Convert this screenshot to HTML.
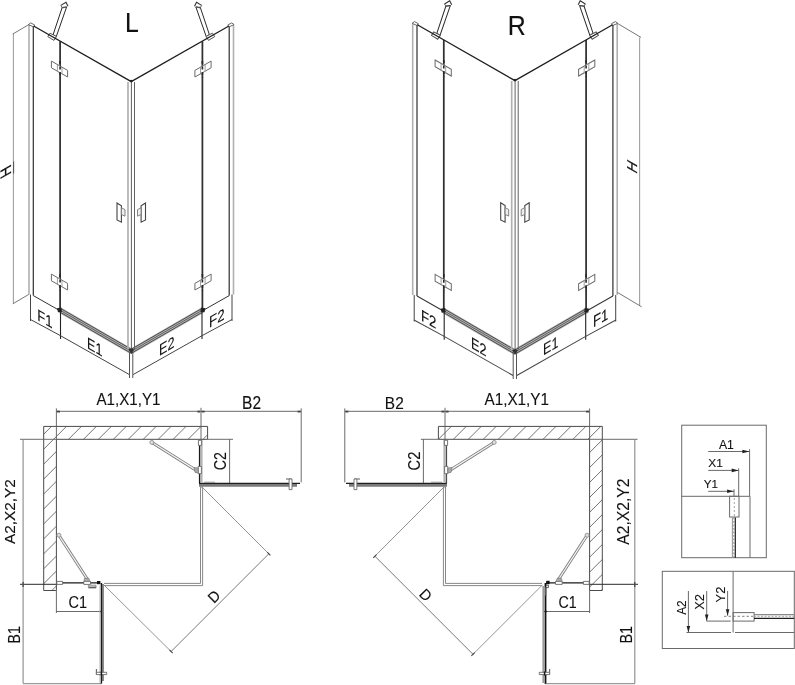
<!DOCTYPE html>
<html><head><meta charset="utf-8"><style>
html,body{margin:0;padding:0;background:#fff;}
svg{display:block;will-change:transform;}
text{font-family:"Liberation Sans",sans-serif;}
</style></head><body>
<svg width="795" height="685" viewBox="0 0 795 685">
<rect width="795" height="685" fill="#fff"/>
<g><line x1="29.00" y1="25.00" x2="29.00" y2="294.50" stroke="#b0b0b0" stroke-width="1.6"/>
<line x1="33.30" y1="26.30" x2="33.30" y2="295.50" stroke="#2e2e2e" stroke-width="1.2"/>
<polygon points="28.40,24.60 30.80,22.90 34.80,25.10 33.30,26.80" fill="#fff" stroke="#555" stroke-width="0.9"/>
<line x1="60.10" y1="41.20" x2="60.10" y2="309.00" stroke="#303030" stroke-width="1.75"/>
<polygon points="51.40,61.10 67.60,70.40 67.60,77.00 51.40,67.80" fill="#fff" stroke="#6a6a6a" stroke-width="1"/>
<polygon points="57.40,64.70 62.00,67.40 62.00,73.80 57.40,71.10" fill="#fff" stroke="#888" stroke-width="0.8"/>
<line x1="60.10" y1="61.00" x2="60.10" y2="78.00" stroke="#262626" stroke-width="1.6" stroke-dasharray="3,2.5"/>
<polygon points="51.40,274.10 67.60,283.40 67.60,290.00 51.40,280.80" fill="#fff" stroke="#6a6a6a" stroke-width="1"/>
<polygon points="57.40,277.70 62.00,280.40 62.00,286.80 57.40,284.10" fill="#fff" stroke="#888" stroke-width="0.8"/>
<line x1="60.10" y1="274.00" x2="60.10" y2="291.00" stroke="#262626" stroke-width="1.6" stroke-dasharray="3,2.5"/>
<polygon points="117.00,203.00 121.40,205.80 121.40,222.20 117.00,220.00" fill="#fff" stroke="#444" stroke-width="1.1"/>
<polygon points="121.40,207.80 125.00,209.60 125.00,216.20 121.40,214.50" fill="#eee" stroke="#777" stroke-width="0.9"/>
<polygon points="53.20,34.40 62.20,7.40 66.60,7.00 56.20,36.80" fill="#fff" stroke="#2a2a2a" stroke-width="1.0"/>
<polyline points="60.80,5.40 66.00,2.20 68.00,6.20" fill="none" stroke="#333" stroke-width="1.1"/>
<polyline points="60.80,5.40 62.40,8.00 67.00,6.80" fill="none" stroke="#555" stroke-width="0.9"/>
<polygon points="47.80,36.60 50.00,33.20 56.40,36.40 54.00,40.40" fill="#fff" stroke="#555" stroke-width="1"/>
<line x1="33.30" y1="295.60" x2="60.10" y2="310.80" stroke="#333" stroke-width="1"/>
<line x1="60.10" y1="310.20" x2="131.30" y2="351.30" stroke="#b4b4b4" stroke-width="5.6"/>
<line x1="60.10" y1="308.20" x2="131.30" y2="349.30" stroke="#484848" stroke-width="0.95"/>
<line x1="60.10" y1="310.20" x2="131.30" y2="351.30" stroke="#5a5a5a" stroke-width="0.9"/>
<line x1="60.10" y1="312.20" x2="131.30" y2="353.30" stroke="#484848" stroke-width="0.95"/>
<polygon points="57.00,308.20 61.40,307.40 62.00,311.80 58.00,312.20" fill="#222"/>
<line x1="33.60" y1="26.00" x2="131.30" y2="81.60" stroke="#1e1e1e" stroke-width="1.3"/>
<line x1="30.50" y1="294.50" x2="30.50" y2="321.00" stroke="#444" stroke-width="1"/>
<line x1="60.50" y1="311.00" x2="60.50" y2="339.00" stroke="#222" stroke-width="1.1"/>
<line x1="30.30" y1="319.40" x2="60.50" y2="335.70" stroke="#444" stroke-width="1"/>
<line x1="60.50" y1="335.70" x2="129.40" y2="374.60" stroke="#444" stroke-width="1"/>
<line x1="233.50" y1="25.00" x2="233.50" y2="294.50" stroke="#b0b0b0" stroke-width="1.6"/>
<line x1="229.20" y1="26.30" x2="229.20" y2="295.50" stroke="#2e2e2e" stroke-width="1.2"/>
<polygon points="234.10,24.60 231.70,22.90 227.70,25.10 229.20,26.80" fill="#fff" stroke="#555" stroke-width="0.9"/>
<line x1="202.40" y1="41.20" x2="202.40" y2="309.00" stroke="#303030" stroke-width="1.75"/>
<polygon points="211.10,61.10 194.90,70.40 194.90,77.00 211.10,67.80" fill="#fff" stroke="#6a6a6a" stroke-width="1"/>
<polygon points="205.10,64.70 200.50,67.40 200.50,73.80 205.10,71.10" fill="#fff" stroke="#888" stroke-width="0.8"/>
<line x1="202.40" y1="61.00" x2="202.40" y2="78.00" stroke="#262626" stroke-width="1.6" stroke-dasharray="3,2.5"/>
<polygon points="211.10,274.10 194.90,283.40 194.90,290.00 211.10,280.80" fill="#fff" stroke="#6a6a6a" stroke-width="1"/>
<polygon points="205.10,277.70 200.50,280.40 200.50,286.80 205.10,284.10" fill="#fff" stroke="#888" stroke-width="0.8"/>
<line x1="202.40" y1="274.00" x2="202.40" y2="291.00" stroke="#262626" stroke-width="1.6" stroke-dasharray="3,2.5"/>
<polygon points="145.50,203.00 141.10,205.80 141.10,222.20 145.50,220.00" fill="#fff" stroke="#444" stroke-width="1.1"/>
<polygon points="141.10,207.80 137.50,209.60 137.50,216.20 141.10,214.50" fill="#eee" stroke="#777" stroke-width="0.9"/>
<polygon points="209.30,34.40 200.30,7.40 195.90,7.00 206.30,36.80" fill="#fff" stroke="#2a2a2a" stroke-width="1.0"/>
<polyline points="201.70,5.40 196.50,2.20 194.50,6.20" fill="none" stroke="#333" stroke-width="1.1"/>
<polyline points="201.70,5.40 200.10,8.00 195.50,6.80" fill="none" stroke="#555" stroke-width="0.9"/>
<polygon points="214.70,36.60 212.50,33.20 206.10,36.40 208.50,40.40" fill="#fff" stroke="#555" stroke-width="1"/>
<line x1="229.20" y1="295.60" x2="202.40" y2="310.80" stroke="#333" stroke-width="1"/>
<line x1="202.40" y1="310.20" x2="131.20" y2="351.30" stroke="#b4b4b4" stroke-width="5.6"/>
<line x1="202.40" y1="308.20" x2="131.20" y2="349.30" stroke="#484848" stroke-width="0.95"/>
<line x1="202.40" y1="310.20" x2="131.20" y2="351.30" stroke="#5a5a5a" stroke-width="0.9"/>
<line x1="202.40" y1="312.20" x2="131.20" y2="353.30" stroke="#484848" stroke-width="0.95"/>
<polygon points="205.50,308.20 201.10,307.40 200.50,311.80 204.50,312.20" fill="#222"/>
<line x1="228.90" y1="26.00" x2="131.20" y2="81.60" stroke="#1e1e1e" stroke-width="1.3"/>
<line x1="232.00" y1="294.50" x2="232.00" y2="321.00" stroke="#444" stroke-width="1"/>
<line x1="202.00" y1="311.00" x2="202.00" y2="339.00" stroke="#222" stroke-width="1.1"/>
<line x1="232.20" y1="319.40" x2="202.00" y2="335.70" stroke="#444" stroke-width="1"/>
<line x1="202.00" y1="335.70" x2="133.10" y2="374.60" stroke="#444" stroke-width="1"/>
<line x1="128.00" y1="82.00" x2="128.00" y2="349.50" stroke="#b0b0b0" stroke-width="1.7"/>
<line x1="131.40" y1="82.00" x2="131.40" y2="349.50" stroke="#606060" stroke-width="1"/>
<line x1="134.50" y1="82.00" x2="134.50" y2="349.50" stroke="#606060" stroke-width="1"/>
<polygon points="129.20,80.60 131.30,79.80 133.40,80.60 131.30,82.80" fill="#222"/>
<line x1="129.50" y1="352.00" x2="129.50" y2="378.00" stroke="#555" stroke-width="1"/>
<line x1="132.80" y1="352.00" x2="132.80" y2="378.00" stroke="#555" stroke-width="1"/>
<polygon points="128.40,349.60 131.30,348.20 134.20,349.60 131.30,354.00" fill="#333"/></g>
<g transform="translate(383.7,-1.466) scale(1,1.0063)"><line x1="29.00" y1="25.00" x2="29.00" y2="294.50" stroke="#b0b0b0" stroke-width="1.6"/>
<line x1="33.30" y1="26.30" x2="33.30" y2="295.50" stroke="#2e2e2e" stroke-width="1.2"/>
<polygon points="28.40,24.60 30.80,22.90 34.80,25.10 33.30,26.80" fill="#fff" stroke="#555" stroke-width="0.9"/>
<line x1="60.10" y1="41.20" x2="60.10" y2="309.00" stroke="#303030" stroke-width="1.75"/>
<polygon points="51.40,61.10 67.60,70.40 67.60,77.00 51.40,67.80" fill="#fff" stroke="#6a6a6a" stroke-width="1"/>
<polygon points="57.40,64.70 62.00,67.40 62.00,73.80 57.40,71.10" fill="#fff" stroke="#888" stroke-width="0.8"/>
<line x1="60.10" y1="61.00" x2="60.10" y2="78.00" stroke="#262626" stroke-width="1.6" stroke-dasharray="3,2.5"/>
<polygon points="51.40,274.10 67.60,283.40 67.60,290.00 51.40,280.80" fill="#fff" stroke="#6a6a6a" stroke-width="1"/>
<polygon points="57.40,277.70 62.00,280.40 62.00,286.80 57.40,284.10" fill="#fff" stroke="#888" stroke-width="0.8"/>
<line x1="60.10" y1="274.00" x2="60.10" y2="291.00" stroke="#262626" stroke-width="1.6" stroke-dasharray="3,2.5"/>
<polygon points="117.00,203.00 121.40,205.80 121.40,222.20 117.00,220.00" fill="#fff" stroke="#444" stroke-width="1.1"/>
<polygon points="121.40,207.80 125.00,209.60 125.00,216.20 121.40,214.50" fill="#eee" stroke="#777" stroke-width="0.9"/>
<polygon points="53.20,34.40 62.20,7.40 66.60,7.00 56.20,36.80" fill="#fff" stroke="#2a2a2a" stroke-width="1.0"/>
<polyline points="60.80,5.40 66.00,2.20 68.00,6.20" fill="none" stroke="#333" stroke-width="1.1"/>
<polyline points="60.80,5.40 62.40,8.00 67.00,6.80" fill="none" stroke="#555" stroke-width="0.9"/>
<polygon points="47.80,36.60 50.00,33.20 56.40,36.40 54.00,40.40" fill="#fff" stroke="#555" stroke-width="1"/>
<line x1="33.30" y1="295.60" x2="60.10" y2="310.80" stroke="#333" stroke-width="1"/>
<line x1="60.10" y1="310.20" x2="131.30" y2="351.30" stroke="#b4b4b4" stroke-width="5.6"/>
<line x1="60.10" y1="308.20" x2="131.30" y2="349.30" stroke="#484848" stroke-width="0.95"/>
<line x1="60.10" y1="310.20" x2="131.30" y2="351.30" stroke="#5a5a5a" stroke-width="0.9"/>
<line x1="60.10" y1="312.20" x2="131.30" y2="353.30" stroke="#484848" stroke-width="0.95"/>
<polygon points="57.00,308.20 61.40,307.40 62.00,311.80 58.00,312.20" fill="#222"/>
<line x1="33.60" y1="26.00" x2="131.30" y2="81.60" stroke="#1e1e1e" stroke-width="1.3"/>
<line x1="30.50" y1="294.50" x2="30.50" y2="321.00" stroke="#444" stroke-width="1"/>
<line x1="60.50" y1="311.00" x2="60.50" y2="339.00" stroke="#222" stroke-width="1.1"/>
<line x1="30.30" y1="319.40" x2="60.50" y2="335.70" stroke="#444" stroke-width="1"/>
<line x1="60.50" y1="335.70" x2="129.40" y2="374.60" stroke="#444" stroke-width="1"/>
<line x1="233.50" y1="25.00" x2="233.50" y2="294.50" stroke="#b0b0b0" stroke-width="1.6"/>
<line x1="229.20" y1="26.30" x2="229.20" y2="295.50" stroke="#2e2e2e" stroke-width="1.2"/>
<polygon points="234.10,24.60 231.70,22.90 227.70,25.10 229.20,26.80" fill="#fff" stroke="#555" stroke-width="0.9"/>
<line x1="202.40" y1="41.20" x2="202.40" y2="309.00" stroke="#303030" stroke-width="1.75"/>
<polygon points="211.10,61.10 194.90,70.40 194.90,77.00 211.10,67.80" fill="#fff" stroke="#6a6a6a" stroke-width="1"/>
<polygon points="205.10,64.70 200.50,67.40 200.50,73.80 205.10,71.10" fill="#fff" stroke="#888" stroke-width="0.8"/>
<line x1="202.40" y1="61.00" x2="202.40" y2="78.00" stroke="#262626" stroke-width="1.6" stroke-dasharray="3,2.5"/>
<polygon points="211.10,274.10 194.90,283.40 194.90,290.00 211.10,280.80" fill="#fff" stroke="#6a6a6a" stroke-width="1"/>
<polygon points="205.10,277.70 200.50,280.40 200.50,286.80 205.10,284.10" fill="#fff" stroke="#888" stroke-width="0.8"/>
<line x1="202.40" y1="274.00" x2="202.40" y2="291.00" stroke="#262626" stroke-width="1.6" stroke-dasharray="3,2.5"/>
<polygon points="145.50,203.00 141.10,205.80 141.10,222.20 145.50,220.00" fill="#fff" stroke="#444" stroke-width="1.1"/>
<polygon points="141.10,207.80 137.50,209.60 137.50,216.20 141.10,214.50" fill="#eee" stroke="#777" stroke-width="0.9"/>
<polygon points="209.30,34.40 200.30,7.40 195.90,7.00 206.30,36.80" fill="#fff" stroke="#2a2a2a" stroke-width="1.0"/>
<polyline points="201.70,5.40 196.50,2.20 194.50,6.20" fill="none" stroke="#333" stroke-width="1.1"/>
<polyline points="201.70,5.40 200.10,8.00 195.50,6.80" fill="none" stroke="#555" stroke-width="0.9"/>
<polygon points="214.70,36.60 212.50,33.20 206.10,36.40 208.50,40.40" fill="#fff" stroke="#555" stroke-width="1"/>
<line x1="229.20" y1="295.60" x2="202.40" y2="310.80" stroke="#333" stroke-width="1"/>
<line x1="202.40" y1="310.20" x2="131.20" y2="351.30" stroke="#b4b4b4" stroke-width="5.6"/>
<line x1="202.40" y1="308.20" x2="131.20" y2="349.30" stroke="#484848" stroke-width="0.95"/>
<line x1="202.40" y1="310.20" x2="131.20" y2="351.30" stroke="#5a5a5a" stroke-width="0.9"/>
<line x1="202.40" y1="312.20" x2="131.20" y2="353.30" stroke="#484848" stroke-width="0.95"/>
<polygon points="205.50,308.20 201.10,307.40 200.50,311.80 204.50,312.20" fill="#222"/>
<line x1="228.90" y1="26.00" x2="131.20" y2="81.60" stroke="#1e1e1e" stroke-width="1.3"/>
<line x1="232.00" y1="294.50" x2="232.00" y2="321.00" stroke="#444" stroke-width="1"/>
<line x1="202.00" y1="311.00" x2="202.00" y2="339.00" stroke="#222" stroke-width="1.1"/>
<line x1="232.20" y1="319.40" x2="202.00" y2="335.70" stroke="#444" stroke-width="1"/>
<line x1="202.00" y1="335.70" x2="133.10" y2="374.60" stroke="#444" stroke-width="1"/>
<line x1="128.00" y1="82.00" x2="128.00" y2="349.50" stroke="#b0b0b0" stroke-width="1.7"/>
<line x1="131.40" y1="82.00" x2="131.40" y2="349.50" stroke="#606060" stroke-width="1"/>
<line x1="134.50" y1="82.00" x2="134.50" y2="349.50" stroke="#606060" stroke-width="1"/>
<polygon points="129.20,80.60 131.30,79.80 133.40,80.60 131.30,82.80" fill="#222"/>
<line x1="129.50" y1="352.00" x2="129.50" y2="378.00" stroke="#555" stroke-width="1"/>
<line x1="132.80" y1="352.00" x2="132.80" y2="378.00" stroke="#555" stroke-width="1"/>
<polygon points="128.40,349.60 131.30,348.20 134.20,349.60 131.30,354.00" fill="#333"/></g>
<line x1="13.40" y1="33.60" x2="13.40" y2="303.60" stroke="#a0a0a0" stroke-width="1.1"/>
<line x1="12.80" y1="34.00" x2="28.80" y2="24.60" stroke="#666" stroke-width="0.9"/>
<line x1="12.80" y1="303.80" x2="28.80" y2="294.40" stroke="#666" stroke-width="0.9"/>
<line x1="13.60" y1="161.50" x2="13.60" y2="173.50" stroke="#555" stroke-width="1.1"/>
<text transform="translate(11.00,172.80) skewY(-30) rotate(-90) scale(0.943,1) translate(-1.21,0)" font-size="15.14" fill="#111" stroke="#111" stroke-width="0.25">H</text>
<text transform="translate(126.90,31.80)  scale(0.885,1) translate(-2.24,0)" font-size="28.00" fill="#111" stroke="#111" stroke-width="0.15">L</text>
<text transform="translate(38.30,320.60) skewY(30) scale(0.810,1) translate(-1.29,0)" font-size="16.14" fill="#111" stroke="#111" stroke-width="0.12">F1</text>
<text transform="translate(88.10,348.60) skewY(30) scale(0.780,1) translate(-1.28,0)" font-size="16.00" fill="#111" stroke="#111" stroke-width="0.12">E1</text>
<text transform="translate(160.10,355.40) skewY(-30) scale(0.791,1) translate(-1.28,0)" font-size="16.00" fill="#111" stroke="#111" stroke-width="0.12">E2</text>
<text transform="translate(210.10,327.30) skewY(-30) scale(0.837,1) translate(-1.27,0)" font-size="15.86" fill="#111" stroke="#111" stroke-width="0.12">F2</text>
<line x1="639.60" y1="37.40" x2="639.60" y2="305.60" stroke="#a0a0a0" stroke-width="1.1"/>
<line x1="617.40" y1="23.40" x2="641.00" y2="37.40" stroke="#666" stroke-width="0.9"/>
<line x1="617.40" y1="292.40" x2="641.60" y2="306.80" stroke="#666" stroke-width="0.9"/>
<text transform="translate(637.20,173.30) skewY(30) rotate(-90) scale(1.000,1) translate(-1.14,0)" font-size="14.29" fill="#111" stroke="#111" stroke-width="0.25">H</text>
<text transform="translate(509.80,35.00)  scale(0.881,1) translate(-2.26,0)" font-size="28.29" fill="#111" stroke="#111" stroke-width="0.15">R</text>
<text transform="translate(422.00,320.80) skewY(30) scale(0.837,1) translate(-1.27,0)" font-size="15.86" fill="#111" stroke="#111" stroke-width="0.12">F2</text>
<text transform="translate(472.10,348.40) skewY(30) scale(0.791,1) translate(-1.28,0)" font-size="16.00" fill="#111" stroke="#111" stroke-width="0.12">E2</text>
<text transform="translate(544.10,355.00) skewY(-30) scale(0.780,1) translate(-1.28,0)" font-size="16.00" fill="#111" stroke="#111" stroke-width="0.12">E1</text>
<text transform="translate(594.00,327.00) skewY(-30) scale(0.817,1) translate(-1.28,0)" font-size="16.00" fill="#111" stroke="#111" stroke-width="0.12">F1</text>
<clipPath id="wc0"><polygon points="43.70,426.40 207.60,426.40 207.60,439.30 56.40,439.30 56.40,590.50 43.70,590.50" /></clipPath>
<g clip-path="url(#wc0)"><line x1="-790.20" y1="700.00" x2="-470.20" y2="380.00" stroke="#5a5a5a" stroke-width="0.85"/><line x1="-775.25" y1="700.00" x2="-455.25" y2="380.00" stroke="#5a5a5a" stroke-width="0.85"/><line x1="-760.30" y1="700.00" x2="-440.30" y2="380.00" stroke="#5a5a5a" stroke-width="0.85"/><line x1="-745.35" y1="700.00" x2="-425.35" y2="380.00" stroke="#5a5a5a" stroke-width="0.85"/><line x1="-730.40" y1="700.00" x2="-410.40" y2="380.00" stroke="#5a5a5a" stroke-width="0.85"/><line x1="-715.45" y1="700.00" x2="-395.45" y2="380.00" stroke="#5a5a5a" stroke-width="0.85"/><line x1="-700.50" y1="700.00" x2="-380.50" y2="380.00" stroke="#5a5a5a" stroke-width="0.85"/><line x1="-685.55" y1="700.00" x2="-365.55" y2="380.00" stroke="#5a5a5a" stroke-width="0.85"/><line x1="-670.60" y1="700.00" x2="-350.60" y2="380.00" stroke="#5a5a5a" stroke-width="0.85"/><line x1="-655.65" y1="700.00" x2="-335.65" y2="380.00" stroke="#5a5a5a" stroke-width="0.85"/><line x1="-640.70" y1="700.00" x2="-320.70" y2="380.00" stroke="#5a5a5a" stroke-width="0.85"/><line x1="-625.75" y1="700.00" x2="-305.75" y2="380.00" stroke="#5a5a5a" stroke-width="0.85"/><line x1="-610.80" y1="700.00" x2="-290.80" y2="380.00" stroke="#5a5a5a" stroke-width="0.85"/><line x1="-595.85" y1="700.00" x2="-275.85" y2="380.00" stroke="#5a5a5a" stroke-width="0.85"/><line x1="-580.90" y1="700.00" x2="-260.90" y2="380.00" stroke="#5a5a5a" stroke-width="0.85"/><line x1="-565.95" y1="700.00" x2="-245.95" y2="380.00" stroke="#5a5a5a" stroke-width="0.85"/><line x1="-551.00" y1="700.00" x2="-231.00" y2="380.00" stroke="#5a5a5a" stroke-width="0.85"/><line x1="-536.05" y1="700.00" x2="-216.05" y2="380.00" stroke="#5a5a5a" stroke-width="0.85"/><line x1="-521.10" y1="700.00" x2="-201.10" y2="380.00" stroke="#5a5a5a" stroke-width="0.85"/><line x1="-506.15" y1="700.00" x2="-186.15" y2="380.00" stroke="#5a5a5a" stroke-width="0.85"/><line x1="-491.20" y1="700.00" x2="-171.20" y2="380.00" stroke="#5a5a5a" stroke-width="0.85"/><line x1="-476.25" y1="700.00" x2="-156.25" y2="380.00" stroke="#5a5a5a" stroke-width="0.85"/><line x1="-461.30" y1="700.00" x2="-141.30" y2="380.00" stroke="#5a5a5a" stroke-width="0.85"/><line x1="-446.35" y1="700.00" x2="-126.35" y2="380.00" stroke="#5a5a5a" stroke-width="0.85"/><line x1="-431.40" y1="700.00" x2="-111.40" y2="380.00" stroke="#5a5a5a" stroke-width="0.85"/><line x1="-416.45" y1="700.00" x2="-96.45" y2="380.00" stroke="#5a5a5a" stroke-width="0.85"/><line x1="-401.50" y1="700.00" x2="-81.50" y2="380.00" stroke="#5a5a5a" stroke-width="0.85"/><line x1="-386.55" y1="700.00" x2="-66.55" y2="380.00" stroke="#5a5a5a" stroke-width="0.85"/><line x1="-371.60" y1="700.00" x2="-51.60" y2="380.00" stroke="#5a5a5a" stroke-width="0.85"/><line x1="-356.65" y1="700.00" x2="-36.65" y2="380.00" stroke="#5a5a5a" stroke-width="0.85"/><line x1="-341.70" y1="700.00" x2="-21.70" y2="380.00" stroke="#5a5a5a" stroke-width="0.85"/><line x1="-326.75" y1="700.00" x2="-6.75" y2="380.00" stroke="#5a5a5a" stroke-width="0.85"/><line x1="-311.80" y1="700.00" x2="8.20" y2="380.00" stroke="#5a5a5a" stroke-width="0.85"/><line x1="-296.85" y1="700.00" x2="23.15" y2="380.00" stroke="#5a5a5a" stroke-width="0.85"/><line x1="-281.90" y1="700.00" x2="38.10" y2="380.00" stroke="#5a5a5a" stroke-width="0.85"/><line x1="-266.95" y1="700.00" x2="53.05" y2="380.00" stroke="#5a5a5a" stroke-width="0.85"/><line x1="-252.00" y1="700.00" x2="68.00" y2="380.00" stroke="#5a5a5a" stroke-width="0.85"/><line x1="-237.05" y1="700.00" x2="82.95" y2="380.00" stroke="#5a5a5a" stroke-width="0.85"/><line x1="-222.10" y1="700.00" x2="97.90" y2="380.00" stroke="#5a5a5a" stroke-width="0.85"/><line x1="-207.15" y1="700.00" x2="112.85" y2="380.00" stroke="#5a5a5a" stroke-width="0.85"/><line x1="-192.20" y1="700.00" x2="127.80" y2="380.00" stroke="#5a5a5a" stroke-width="0.85"/><line x1="-177.25" y1="700.00" x2="142.75" y2="380.00" stroke="#5a5a5a" stroke-width="0.85"/><line x1="-162.30" y1="700.00" x2="157.70" y2="380.00" stroke="#5a5a5a" stroke-width="0.85"/><line x1="-147.35" y1="700.00" x2="172.65" y2="380.00" stroke="#5a5a5a" stroke-width="0.85"/><line x1="-132.40" y1="700.00" x2="187.60" y2="380.00" stroke="#5a5a5a" stroke-width="0.85"/><line x1="-117.45" y1="700.00" x2="202.55" y2="380.00" stroke="#5a5a5a" stroke-width="0.85"/><line x1="-102.50" y1="700.00" x2="217.50" y2="380.00" stroke="#5a5a5a" stroke-width="0.85"/><line x1="-87.55" y1="700.00" x2="232.45" y2="380.00" stroke="#5a5a5a" stroke-width="0.85"/><line x1="-72.60" y1="700.00" x2="247.40" y2="380.00" stroke="#5a5a5a" stroke-width="0.85"/><line x1="-57.65" y1="700.00" x2="262.35" y2="380.00" stroke="#5a5a5a" stroke-width="0.85"/><line x1="-42.70" y1="700.00" x2="277.30" y2="380.00" stroke="#5a5a5a" stroke-width="0.85"/><line x1="-27.75" y1="700.00" x2="292.25" y2="380.00" stroke="#5a5a5a" stroke-width="0.85"/><line x1="-12.80" y1="700.00" x2="307.20" y2="380.00" stroke="#5a5a5a" stroke-width="0.85"/><line x1="2.15" y1="700.00" x2="322.15" y2="380.00" stroke="#5a5a5a" stroke-width="0.85"/><line x1="17.10" y1="700.00" x2="337.10" y2="380.00" stroke="#5a5a5a" stroke-width="0.85"/><line x1="32.05" y1="700.00" x2="352.05" y2="380.00" stroke="#5a5a5a" stroke-width="0.85"/><line x1="47.00" y1="700.00" x2="367.00" y2="380.00" stroke="#5a5a5a" stroke-width="0.85"/><line x1="61.95" y1="700.00" x2="381.95" y2="380.00" stroke="#5a5a5a" stroke-width="0.85"/><line x1="76.90" y1="700.00" x2="396.90" y2="380.00" stroke="#5a5a5a" stroke-width="0.85"/><line x1="91.85" y1="700.00" x2="411.85" y2="380.00" stroke="#5a5a5a" stroke-width="0.85"/><line x1="106.80" y1="700.00" x2="426.80" y2="380.00" stroke="#5a5a5a" stroke-width="0.85"/><line x1="121.75" y1="700.00" x2="441.75" y2="380.00" stroke="#5a5a5a" stroke-width="0.85"/><line x1="136.70" y1="700.00" x2="456.70" y2="380.00" stroke="#5a5a5a" stroke-width="0.85"/><line x1="151.65" y1="700.00" x2="471.65" y2="380.00" stroke="#5a5a5a" stroke-width="0.85"/><line x1="166.60" y1="700.00" x2="486.60" y2="380.00" stroke="#5a5a5a" stroke-width="0.85"/><line x1="181.55" y1="700.00" x2="501.55" y2="380.00" stroke="#5a5a5a" stroke-width="0.85"/><line x1="196.50" y1="700.00" x2="516.50" y2="380.00" stroke="#5a5a5a" stroke-width="0.85"/><line x1="211.45" y1="700.00" x2="531.45" y2="380.00" stroke="#5a5a5a" stroke-width="0.85"/><line x1="226.40" y1="700.00" x2="546.40" y2="380.00" stroke="#5a5a5a" stroke-width="0.85"/><line x1="241.35" y1="700.00" x2="561.35" y2="380.00" stroke="#5a5a5a" stroke-width="0.85"/><line x1="256.30" y1="700.00" x2="576.30" y2="380.00" stroke="#5a5a5a" stroke-width="0.85"/><line x1="271.25" y1="700.00" x2="591.25" y2="380.00" stroke="#5a5a5a" stroke-width="0.85"/><line x1="286.20" y1="700.00" x2="606.20" y2="380.00" stroke="#5a5a5a" stroke-width="0.85"/><line x1="301.15" y1="700.00" x2="621.15" y2="380.00" stroke="#5a5a5a" stroke-width="0.85"/><line x1="316.10" y1="700.00" x2="636.10" y2="380.00" stroke="#5a5a5a" stroke-width="0.85"/><line x1="331.05" y1="700.00" x2="651.05" y2="380.00" stroke="#5a5a5a" stroke-width="0.85"/><line x1="346.00" y1="700.00" x2="666.00" y2="380.00" stroke="#5a5a5a" stroke-width="0.85"/><line x1="360.95" y1="700.00" x2="680.95" y2="380.00" stroke="#5a5a5a" stroke-width="0.85"/><line x1="375.90" y1="700.00" x2="695.90" y2="380.00" stroke="#5a5a5a" stroke-width="0.85"/><line x1="390.85" y1="700.00" x2="710.85" y2="380.00" stroke="#5a5a5a" stroke-width="0.85"/></g>
<polygon points="43.70,426.40 207.60,426.40 207.60,439.30 56.40,439.30 56.40,590.50 43.70,590.50" fill="none" stroke="#4a4a4a" stroke-width="1"/>
<line x1="56.40" y1="408.40" x2="56.40" y2="439.30" stroke="#5a5a5a" stroke-width="0.9"/>
<line x1="56.40" y1="411.30" x2="301.20" y2="411.30" stroke="#5a5a5a" stroke-width="0.9"/>
<line x1="201.00" y1="407.80" x2="201.00" y2="440.00" stroke="#5a5a5a" stroke-width="0.9"/>
<line x1="301.20" y1="408.40" x2="301.20" y2="482.40" stroke="#5a5a5a" stroke-width="0.9"/>
<line x1="57.00" y1="411.60" x2="60.00" y2="411.60" stroke="#444" stroke-width="1.8"/>
<line x1="197.40" y1="411.60" x2="200.20" y2="411.60" stroke="#444" stroke-width="1.8"/>
<line x1="201.80" y1="411.60" x2="204.60" y2="411.60" stroke="#444" stroke-width="1.8"/>
<line x1="297.60" y1="411.60" x2="300.60" y2="411.60" stroke="#444" stroke-width="1.8"/>
<line x1="43.70" y1="439.30" x2="56.40" y2="439.30" stroke="#5a5a5a" stroke-width="0.9"/>
<line x1="207.60" y1="439.30" x2="233.00" y2="439.30" stroke="#5a5a5a" stroke-width="0.9"/>
<line x1="229.60" y1="439.30" x2="229.60" y2="483.00" stroke="#5a5a5a" stroke-width="0.9"/>
<line x1="56.40" y1="590.50" x2="56.40" y2="613.00" stroke="#5a5a5a" stroke-width="0.9"/>
<line x1="56.40" y1="611.50" x2="101.40" y2="611.50" stroke="#5a5a5a" stroke-width="0.9"/>
<line x1="99.00" y1="611.50" x2="101.40" y2="611.50" stroke="#222" stroke-width="1.4"/>
<line x1="23.10" y1="683.60" x2="101.40" y2="683.60" stroke="#9a9a9a" stroke-width="1.1"/>
<polyline points="104.00,583.40 200.50,583.40 200.50,487.00" fill="none" stroke="#7a7a7a" stroke-width="0.9"/>
<polyline points="104.00,585.60 202.60,585.60 202.60,487.00" fill="none" stroke="#7a7a7a" stroke-width="0.9"/>
<line x1="200.50" y1="487.00" x2="202.60" y2="487.00" stroke="#7a7a7a" stroke-width="0.9"/>
<line x1="202.60" y1="487.60" x2="268.80" y2="553.80" stroke="#8a8a8a" stroke-width="0.9"/>
<line x1="103.60" y1="584.60" x2="171.10" y2="651.50" stroke="#8a8a8a" stroke-width="0.9"/>
<line x1="268.80" y1="553.80" x2="171.10" y2="651.50" stroke="#6a6a6a" stroke-width="0.9"/>
<line x1="267.20" y1="552.20" x2="270.40" y2="555.40" stroke="#444" stroke-width="1.1"/>
<line x1="169.50" y1="649.90" x2="172.70" y2="653.10" stroke="#444" stroke-width="1.1"/>
<line x1="199.00" y1="485.40" x2="297.00" y2="485.40" stroke="#7a7a7a" stroke-width="2.6"/>
<line x1="199.00" y1="483.40" x2="300.00" y2="483.40" stroke="#1e1e1e" stroke-width="1.3"/>
<line x1="204.00" y1="482.20" x2="215.00" y2="482.20" stroke="#888" stroke-width="0.9"/>
<line x1="286.00" y1="479.00" x2="291.70" y2="479.00" stroke="#777" stroke-width="1.2"/>
<polygon points="289.10,479.00 292.00,479.00 292.00,489.60 289.10,489.60" fill="#fff" stroke="#666" stroke-width="0.9"/>
<line x1="103.00" y1="584.00" x2="103.00" y2="681.00" stroke="#8c8c8c" stroke-width="2.0"/>
<line x1="101.40" y1="583.00" x2="101.40" y2="683.60" stroke="#1a1a1a" stroke-width="1.5"/>
<line x1="99.80" y1="586.00" x2="99.80" y2="683.00" stroke="#c8c8c8" stroke-width="1.0"/>
<line x1="96.40" y1="669.00" x2="96.40" y2="674.50" stroke="#666" stroke-width="1.1"/>
<polygon points="96.40,672.30 106.70,672.30 106.70,674.60 96.40,674.60" fill="#fff" stroke="#666" stroke-width="0.9"/>
<line x1="101.40" y1="671.50" x2="101.40" y2="675.50" stroke="#1a1a1a" stroke-width="1.5"/>
<line x1="201.70" y1="440.00" x2="201.70" y2="482.50" stroke="#b4b4b4" stroke-width="1.8"/>
<line x1="199.60" y1="440.00" x2="199.60" y2="483.50" stroke="#1a1a1a" stroke-width="1.4"/>
<polygon points="198.40,440.20 201.60,440.20 201.60,445.40 198.40,445.40" fill="#fff" stroke="#666" stroke-width="0.9"/>
<polygon points="198.20,466.40 201.40,466.40 201.40,473.70 198.20,473.70" fill="#fff" stroke="#666" stroke-width="0.9"/>
<line x1="56.40" y1="582.90" x2="100.00" y2="582.90" stroke="#1a1a1a" stroke-width="1.4"/>
<polygon points="56.80,581.40 62.60,581.40 62.60,584.40 56.80,584.40" fill="#fff" stroke="#666" stroke-width="0.9"/>
<polygon points="83.80,581.40 90.50,581.40 90.50,584.40 83.80,584.40" fill="#fff" stroke="#666" stroke-width="0.9"/>
<polygon points="88.40,585.20 96.00,585.20 96.00,588.00 88.40,588.00" fill="#f4f4f4" stroke="#777" stroke-width="0.8"/>
<line x1="89.00" y1="587.20" x2="95.80" y2="587.20" stroke="#333" stroke-width="1"/>
<polygon points="97.00,581.00 100.40,581.00 100.40,584.20 97.00,584.20" fill="#111"/>
<line x1="151.60" y1="442.20" x2="196.40" y2="470.40" stroke="#7a7a7a" stroke-width="3.0" stroke-linecap="butt"/>
<line x1="151.60" y1="442.20" x2="196.40" y2="470.40" stroke="#f2f2f2" stroke-width="1.3"/>
<line x1="58.60" y1="534.80" x2="87.20" y2="579.00" stroke="#7a7a7a" stroke-width="3.0" stroke-linecap="butt"/>
<line x1="58.60" y1="534.80" x2="87.20" y2="579.00" stroke="#f2f2f2" stroke-width="1.3"/>
<circle cx="151.80" cy="442.4" r="2.0" fill="#ddd" stroke="#888" stroke-width="0.8"/>
<circle cx="58.90" cy="535.2" r="2.0" fill="#ddd" stroke="#888" stroke-width="0.8"/>
<polygon points="194.00,467.60 198.20,468.00 198.20,473.00 195.00,472.40" fill="#aaa" stroke="#777" stroke-width="0.7"/>
<polygon points="84.40,578.60 88.60,578.00 90.00,581.40 84.00,581.40" fill="#aaa" stroke="#777" stroke-width="0.7"/>
<line x1="20.00" y1="439.30" x2="43.70" y2="439.30" stroke="#5a5a5a" stroke-width="0.9"/>
<line x1="20.00" y1="584.30" x2="56.40" y2="584.30" stroke="#2a2a2a" stroke-width="1"/>
<line x1="23.10" y1="439.30" x2="23.10" y2="683.60" stroke="#8a8a8a" stroke-width="1.1"/>
<line x1="23.10" y1="582.00" x2="23.10" y2="587.00" stroke="#333" stroke-width="1.1"/>
<clipPath id="wc1"><polygon points="602.30,426.40 438.40,426.40 438.40,439.30 589.60,439.30 589.60,590.50 602.30,590.50" /></clipPath>
<g clip-path="url(#wc1)"><line x1="-330.60" y1="700.00" x2="-10.60" y2="380.00" stroke="#5a5a5a" stroke-width="0.85"/><line x1="-315.65" y1="700.00" x2="4.35" y2="380.00" stroke="#5a5a5a" stroke-width="0.85"/><line x1="-300.70" y1="700.00" x2="19.30" y2="380.00" stroke="#5a5a5a" stroke-width="0.85"/><line x1="-285.75" y1="700.00" x2="34.25" y2="380.00" stroke="#5a5a5a" stroke-width="0.85"/><line x1="-270.80" y1="700.00" x2="49.20" y2="380.00" stroke="#5a5a5a" stroke-width="0.85"/><line x1="-255.85" y1="700.00" x2="64.15" y2="380.00" stroke="#5a5a5a" stroke-width="0.85"/><line x1="-240.90" y1="700.00" x2="79.10" y2="380.00" stroke="#5a5a5a" stroke-width="0.85"/><line x1="-225.95" y1="700.00" x2="94.05" y2="380.00" stroke="#5a5a5a" stroke-width="0.85"/><line x1="-211.00" y1="700.00" x2="109.00" y2="380.00" stroke="#5a5a5a" stroke-width="0.85"/><line x1="-196.05" y1="700.00" x2="123.95" y2="380.00" stroke="#5a5a5a" stroke-width="0.85"/><line x1="-181.10" y1="700.00" x2="138.90" y2="380.00" stroke="#5a5a5a" stroke-width="0.85"/><line x1="-166.15" y1="700.00" x2="153.85" y2="380.00" stroke="#5a5a5a" stroke-width="0.85"/><line x1="-151.20" y1="700.00" x2="168.80" y2="380.00" stroke="#5a5a5a" stroke-width="0.85"/><line x1="-136.25" y1="700.00" x2="183.75" y2="380.00" stroke="#5a5a5a" stroke-width="0.85"/><line x1="-121.30" y1="700.00" x2="198.70" y2="380.00" stroke="#5a5a5a" stroke-width="0.85"/><line x1="-106.35" y1="700.00" x2="213.65" y2="380.00" stroke="#5a5a5a" stroke-width="0.85"/><line x1="-91.40" y1="700.00" x2="228.60" y2="380.00" stroke="#5a5a5a" stroke-width="0.85"/><line x1="-76.45" y1="700.00" x2="243.55" y2="380.00" stroke="#5a5a5a" stroke-width="0.85"/><line x1="-61.50" y1="700.00" x2="258.50" y2="380.00" stroke="#5a5a5a" stroke-width="0.85"/><line x1="-46.55" y1="700.00" x2="273.45" y2="380.00" stroke="#5a5a5a" stroke-width="0.85"/><line x1="-31.60" y1="700.00" x2="288.40" y2="380.00" stroke="#5a5a5a" stroke-width="0.85"/><line x1="-16.65" y1="700.00" x2="303.35" y2="380.00" stroke="#5a5a5a" stroke-width="0.85"/><line x1="-1.70" y1="700.00" x2="318.30" y2="380.00" stroke="#5a5a5a" stroke-width="0.85"/><line x1="13.25" y1="700.00" x2="333.25" y2="380.00" stroke="#5a5a5a" stroke-width="0.85"/><line x1="28.20" y1="700.00" x2="348.20" y2="380.00" stroke="#5a5a5a" stroke-width="0.85"/><line x1="43.15" y1="700.00" x2="363.15" y2="380.00" stroke="#5a5a5a" stroke-width="0.85"/><line x1="58.10" y1="700.00" x2="378.10" y2="380.00" stroke="#5a5a5a" stroke-width="0.85"/><line x1="73.05" y1="700.00" x2="393.05" y2="380.00" stroke="#5a5a5a" stroke-width="0.85"/><line x1="88.00" y1="700.00" x2="408.00" y2="380.00" stroke="#5a5a5a" stroke-width="0.85"/><line x1="102.95" y1="700.00" x2="422.95" y2="380.00" stroke="#5a5a5a" stroke-width="0.85"/><line x1="117.90" y1="700.00" x2="437.90" y2="380.00" stroke="#5a5a5a" stroke-width="0.85"/><line x1="132.85" y1="700.00" x2="452.85" y2="380.00" stroke="#5a5a5a" stroke-width="0.85"/><line x1="147.80" y1="700.00" x2="467.80" y2="380.00" stroke="#5a5a5a" stroke-width="0.85"/><line x1="162.75" y1="700.00" x2="482.75" y2="380.00" stroke="#5a5a5a" stroke-width="0.85"/><line x1="177.70" y1="700.00" x2="497.70" y2="380.00" stroke="#5a5a5a" stroke-width="0.85"/><line x1="192.65" y1="700.00" x2="512.65" y2="380.00" stroke="#5a5a5a" stroke-width="0.85"/><line x1="207.60" y1="700.00" x2="527.60" y2="380.00" stroke="#5a5a5a" stroke-width="0.85"/><line x1="222.55" y1="700.00" x2="542.55" y2="380.00" stroke="#5a5a5a" stroke-width="0.85"/><line x1="237.50" y1="700.00" x2="557.50" y2="380.00" stroke="#5a5a5a" stroke-width="0.85"/><line x1="252.45" y1="700.00" x2="572.45" y2="380.00" stroke="#5a5a5a" stroke-width="0.85"/><line x1="267.40" y1="700.00" x2="587.40" y2="380.00" stroke="#5a5a5a" stroke-width="0.85"/><line x1="282.35" y1="700.00" x2="602.35" y2="380.00" stroke="#5a5a5a" stroke-width="0.85"/><line x1="297.30" y1="700.00" x2="617.30" y2="380.00" stroke="#5a5a5a" stroke-width="0.85"/><line x1="312.25" y1="700.00" x2="632.25" y2="380.00" stroke="#5a5a5a" stroke-width="0.85"/><line x1="327.20" y1="700.00" x2="647.20" y2="380.00" stroke="#5a5a5a" stroke-width="0.85"/><line x1="342.15" y1="700.00" x2="662.15" y2="380.00" stroke="#5a5a5a" stroke-width="0.85"/><line x1="357.10" y1="700.00" x2="677.10" y2="380.00" stroke="#5a5a5a" stroke-width="0.85"/><line x1="372.05" y1="700.00" x2="692.05" y2="380.00" stroke="#5a5a5a" stroke-width="0.85"/><line x1="387.00" y1="700.00" x2="707.00" y2="380.00" stroke="#5a5a5a" stroke-width="0.85"/><line x1="401.95" y1="700.00" x2="721.95" y2="380.00" stroke="#5a5a5a" stroke-width="0.85"/><line x1="416.90" y1="700.00" x2="736.90" y2="380.00" stroke="#5a5a5a" stroke-width="0.85"/><line x1="431.85" y1="700.00" x2="751.85" y2="380.00" stroke="#5a5a5a" stroke-width="0.85"/><line x1="446.80" y1="700.00" x2="766.80" y2="380.00" stroke="#5a5a5a" stroke-width="0.85"/><line x1="461.75" y1="700.00" x2="781.75" y2="380.00" stroke="#5a5a5a" stroke-width="0.85"/><line x1="476.70" y1="700.00" x2="796.70" y2="380.00" stroke="#5a5a5a" stroke-width="0.85"/><line x1="491.65" y1="700.00" x2="811.65" y2="380.00" stroke="#5a5a5a" stroke-width="0.85"/><line x1="506.60" y1="700.00" x2="826.60" y2="380.00" stroke="#5a5a5a" stroke-width="0.85"/><line x1="521.55" y1="700.00" x2="841.55" y2="380.00" stroke="#5a5a5a" stroke-width="0.85"/><line x1="536.50" y1="700.00" x2="856.50" y2="380.00" stroke="#5a5a5a" stroke-width="0.85"/><line x1="551.45" y1="700.00" x2="871.45" y2="380.00" stroke="#5a5a5a" stroke-width="0.85"/><line x1="566.40" y1="700.00" x2="886.40" y2="380.00" stroke="#5a5a5a" stroke-width="0.85"/><line x1="581.35" y1="700.00" x2="901.35" y2="380.00" stroke="#5a5a5a" stroke-width="0.85"/><line x1="596.30" y1="700.00" x2="916.30" y2="380.00" stroke="#5a5a5a" stroke-width="0.85"/><line x1="611.25" y1="700.00" x2="931.25" y2="380.00" stroke="#5a5a5a" stroke-width="0.85"/><line x1="626.20" y1="700.00" x2="946.20" y2="380.00" stroke="#5a5a5a" stroke-width="0.85"/><line x1="641.15" y1="700.00" x2="961.15" y2="380.00" stroke="#5a5a5a" stroke-width="0.85"/><line x1="656.10" y1="700.00" x2="976.10" y2="380.00" stroke="#5a5a5a" stroke-width="0.85"/><line x1="671.05" y1="700.00" x2="991.05" y2="380.00" stroke="#5a5a5a" stroke-width="0.85"/><line x1="686.00" y1="700.00" x2="1006.00" y2="380.00" stroke="#5a5a5a" stroke-width="0.85"/><line x1="700.95" y1="700.00" x2="1020.95" y2="380.00" stroke="#5a5a5a" stroke-width="0.85"/><line x1="715.90" y1="700.00" x2="1035.90" y2="380.00" stroke="#5a5a5a" stroke-width="0.85"/><line x1="730.85" y1="700.00" x2="1050.85" y2="380.00" stroke="#5a5a5a" stroke-width="0.85"/><line x1="745.80" y1="700.00" x2="1065.80" y2="380.00" stroke="#5a5a5a" stroke-width="0.85"/><line x1="760.75" y1="700.00" x2="1080.75" y2="380.00" stroke="#5a5a5a" stroke-width="0.85"/><line x1="775.70" y1="700.00" x2="1095.70" y2="380.00" stroke="#5a5a5a" stroke-width="0.85"/><line x1="790.65" y1="700.00" x2="1110.65" y2="380.00" stroke="#5a5a5a" stroke-width="0.85"/><line x1="805.60" y1="700.00" x2="1125.60" y2="380.00" stroke="#5a5a5a" stroke-width="0.85"/><line x1="820.55" y1="700.00" x2="1140.55" y2="380.00" stroke="#5a5a5a" stroke-width="0.85"/><line x1="835.50" y1="700.00" x2="1155.50" y2="380.00" stroke="#5a5a5a" stroke-width="0.85"/><line x1="850.45" y1="700.00" x2="1170.45" y2="380.00" stroke="#5a5a5a" stroke-width="0.85"/></g>
<polygon points="602.30,426.40 438.40,426.40 438.40,439.30 589.60,439.30 589.60,590.50 602.30,590.50" fill="none" stroke="#4a4a4a" stroke-width="1"/>
<line x1="589.60" y1="408.40" x2="589.60" y2="439.30" stroke="#5a5a5a" stroke-width="0.9"/>
<line x1="589.60" y1="411.30" x2="344.80" y2="411.30" stroke="#5a5a5a" stroke-width="0.9"/>
<line x1="445.00" y1="407.80" x2="445.00" y2="440.00" stroke="#5a5a5a" stroke-width="0.9"/>
<line x1="344.80" y1="408.40" x2="344.80" y2="482.40" stroke="#5a5a5a" stroke-width="0.9"/>
<line x1="589.00" y1="411.60" x2="586.00" y2="411.60" stroke="#444" stroke-width="1.8"/>
<line x1="448.60" y1="411.60" x2="445.80" y2="411.60" stroke="#444" stroke-width="1.8"/>
<line x1="444.20" y1="411.60" x2="441.40" y2="411.60" stroke="#444" stroke-width="1.8"/>
<line x1="348.40" y1="411.60" x2="345.40" y2="411.60" stroke="#444" stroke-width="1.8"/>
<line x1="602.30" y1="439.30" x2="589.60" y2="439.30" stroke="#5a5a5a" stroke-width="0.9"/>
<line x1="420.80" y1="439.30" x2="438.40" y2="439.30" stroke="#5a5a5a" stroke-width="0.9"/>
<line x1="423.40" y1="439.30" x2="423.40" y2="483.00" stroke="#5a5a5a" stroke-width="0.9"/>
<line x1="589.60" y1="590.50" x2="589.60" y2="613.00" stroke="#5a5a5a" stroke-width="0.9"/>
<line x1="589.60" y1="611.50" x2="544.60" y2="611.50" stroke="#5a5a5a" stroke-width="0.9"/>
<line x1="547.00" y1="611.50" x2="544.60" y2="611.50" stroke="#222" stroke-width="1.4"/>
<line x1="544.60" y1="683.60" x2="635.00" y2="683.60" stroke="#9a9a9a" stroke-width="1.1"/>
<polyline points="542.00,583.40 445.50,583.40 445.50,487.00" fill="none" stroke="#7a7a7a" stroke-width="0.9"/>
<polyline points="542.00,585.60 443.40,585.60 443.40,487.00" fill="none" stroke="#7a7a7a" stroke-width="0.9"/>
<line x1="445.50" y1="487.00" x2="443.40" y2="487.00" stroke="#7a7a7a" stroke-width="0.9"/>
<line x1="443.40" y1="487.60" x2="374.90" y2="556.20" stroke="#8a8a8a" stroke-width="0.9"/>
<line x1="542.40" y1="585.00" x2="473.00" y2="654.30" stroke="#8a8a8a" stroke-width="0.9"/>
<line x1="374.90" y1="556.20" x2="473.00" y2="654.30" stroke="#6a6a6a" stroke-width="0.9"/>
<line x1="376.50" y1="554.60" x2="373.30" y2="557.80" stroke="#444" stroke-width="1.1"/>
<line x1="474.60" y1="652.70" x2="471.40" y2="655.90" stroke="#444" stroke-width="1.1"/>
<line x1="447.00" y1="485.40" x2="349.00" y2="485.40" stroke="#7a7a7a" stroke-width="2.6"/>
<line x1="447.00" y1="483.40" x2="346.00" y2="483.40" stroke="#1e1e1e" stroke-width="1.3"/>
<line x1="442.00" y1="482.20" x2="431.00" y2="482.20" stroke="#888" stroke-width="0.9"/>
<line x1="360.00" y1="479.00" x2="354.30" y2="479.00" stroke="#777" stroke-width="1.2"/>
<polygon points="356.90,479.00 354.00,479.00 354.00,489.60 356.90,489.60" fill="#fff" stroke="#666" stroke-width="0.9"/>
<line x1="543.20" y1="586.00" x2="543.20" y2="683.00" stroke="#9a9a9a" stroke-width="1.6"/>
<line x1="545.50" y1="583.00" x2="545.50" y2="683.60" stroke="#111" stroke-width="1.8"/>
<line x1="549.60" y1="669.00" x2="549.60" y2="674.50" stroke="#666" stroke-width="1.1"/>
<polygon points="549.60,672.30 539.30,672.30 539.30,674.60 549.60,674.60" fill="#fff" stroke="#666" stroke-width="0.9"/>
<line x1="544.60" y1="671.50" x2="544.60" y2="675.50" stroke="#1a1a1a" stroke-width="1.5"/>
<line x1="444.30" y1="440.00" x2="444.30" y2="482.50" stroke="#b4b4b4" stroke-width="1.8"/>
<line x1="446.40" y1="440.00" x2="446.40" y2="483.50" stroke="#4a4a4a" stroke-width="1.4"/>
<polygon points="447.60,440.20 444.40,440.20 444.40,445.40 447.60,445.40" fill="#fff" stroke="#666" stroke-width="0.9"/>
<polygon points="447.80,466.40 444.60,466.40 444.60,473.70 447.80,473.70" fill="#fff" stroke="#666" stroke-width="0.9"/>
<line x1="589.60" y1="582.90" x2="546.00" y2="582.90" stroke="#1a1a1a" stroke-width="1.4"/>
<polygon points="589.20,581.40 583.40,581.40 583.40,584.40 589.20,584.40" fill="#fff" stroke="#666" stroke-width="0.9"/>
<polygon points="562.20,581.40 555.50,581.40 555.50,584.40 562.20,584.40" fill="#fff" stroke="#666" stroke-width="0.9"/>
<polygon points="546.20,580.80 549.60,580.80 549.60,584.20 546.20,584.20" fill="#111"/>
<polygon points="546.00,585.20 548.40,585.20 548.40,587.60 546.00,587.60" fill="#fff" stroke="#333" stroke-width="0.8"/>
<line x1="545.90" y1="587.50" x2="545.90" y2="595.50" stroke="#777" stroke-width="1.2"/>
<line x1="494.40" y1="442.20" x2="449.60" y2="470.40" stroke="#7a7a7a" stroke-width="3.0" stroke-linecap="butt"/>
<line x1="494.40" y1="442.20" x2="449.60" y2="470.40" stroke="#f2f2f2" stroke-width="1.3"/>
<line x1="587.40" y1="534.80" x2="558.80" y2="579.00" stroke="#7a7a7a" stroke-width="3.0" stroke-linecap="butt"/>
<line x1="587.40" y1="534.80" x2="558.80" y2="579.00" stroke="#f2f2f2" stroke-width="1.3"/>
<circle cx="494.20" cy="442.4" r="2.0" fill="#ddd" stroke="#888" stroke-width="0.8"/>
<circle cx="587.10" cy="535.2" r="2.0" fill="#ddd" stroke="#888" stroke-width="0.8"/>
<polygon points="452.00,467.60 447.80,468.00 447.80,473.00 451.00,472.40" fill="#aaa" stroke="#777" stroke-width="0.7"/>
<polygon points="561.60,578.60 557.40,578.00 556.00,581.40 562.00,581.40" fill="#aaa" stroke="#777" stroke-width="0.7"/>
<line x1="602.40" y1="439.30" x2="637.50" y2="439.30" stroke="#5a5a5a" stroke-width="0.9"/>
<line x1="589.60" y1="584.30" x2="638.00" y2="584.30" stroke="#2a2a2a" stroke-width="1"/>
<line x1="634.80" y1="439.30" x2="634.80" y2="683.60" stroke="#8a8a8a" stroke-width="1.1"/>
<line x1="634.80" y1="582.00" x2="634.80" y2="587.00" stroke="#333" stroke-width="1.1"/>
<text transform="translate(96.50,404.60)  scale(0.965,1) translate(0.00,0)" font-size="15.71" fill="#111" stroke="#111" stroke-width="0.12">A1,X1,Y1</text>
<text transform="translate(243.30,408.60)  scale(0.890,1) translate(-1.39,0)" font-size="17.43" fill="#111" stroke="#111" stroke-width="0.12">B2</text>
<text transform="translate(15.20,544.10) rotate(-90) scale(1.024,1) translate(0.00,0)" font-size="15.00" fill="#111" stroke="#111" stroke-width="0.12">A2,X2,Y2</text>
<text transform="translate(226.00,469.50) rotate(-90) scale(0.831,1) translate(-0.86,0)" font-size="17.14" fill="#111" stroke="#111" stroke-width="0.12">C2</text>
<text transform="translate(69.30,607.90)  scale(0.852,1) translate(-0.85,0)" font-size="17.00" fill="#111" stroke="#111" stroke-width="0.12">C1</text>
<text transform="translate(19.80,642.40) rotate(-90) scale(0.853,1) translate(-1.33,0)" font-size="16.57" fill="#111" stroke="#111" stroke-width="0.12">B1</text>
<text transform="translate(214.80,603.20) rotate(-45) scale(0.963,1) translate(-1.21,0)" font-size="15.14" fill="#111" stroke="#111" stroke-width="0.12">D</text>
<text transform="translate(484.50,404.60)  scale(0.973,1) translate(0.00,0)" font-size="15.71" fill="#111" stroke="#111" stroke-width="0.12">A1,X1,Y1</text>
<text transform="translate(386.10,408.60)  scale(0.899,1) translate(-1.37,0)" font-size="17.14" fill="#111" stroke="#111" stroke-width="0.12">B2</text>
<text transform="translate(628.70,544.70) rotate(-90) scale(0.913,1) translate(0.00,0)" font-size="17.14" fill="#111" stroke="#111" stroke-width="0.12">A2,X2,Y2</text>
<text transform="translate(420.10,469.70) rotate(-90) scale(0.855,1) translate(-0.86,0)" font-size="17.14" fill="#111" stroke="#111" stroke-width="0.12">C2</text>
<text transform="translate(559.10,607.90)  scale(0.837,1) translate(-0.85,0)" font-size="17.00" fill="#111" stroke="#111" stroke-width="0.12">C1</text>
<text transform="translate(631.80,642.40) rotate(-90) scale(0.869,1) translate(-1.33,0)" font-size="16.57" fill="#111" stroke="#111" stroke-width="0.12">B1</text>
<text transform="translate(419.00,595.80) rotate(45) scale(0.963,1) translate(-1.21,0)" font-size="15.14" fill="#111" stroke="#111" stroke-width="0.12">D</text>
<rect x="681.7" y="425.2" width="84.6" height="132.5" stroke="#6a6a6a" stroke-width="1" fill="none"/>
<polyline points="681.7,496.3 750,496.3 750,557.7" stroke="#6a6a6a" stroke-width="1" fill="none"/>
<line x1="708.2" y1="451.5" x2="749.6" y2="451.5" stroke="#6a6a6a" stroke-width="1" fill="none"/>
<line x1="749.6" y1="449.2" x2="749.6" y2="496.3" stroke="#6a6a6a" stroke-width="1" fill="none"/>
<line x1="708.2" y1="470.4" x2="738.7" y2="470.4" stroke="#6a6a6a" stroke-width="1" fill="none"/>
<line x1="738.7" y1="468.4" x2="738.7" y2="496.3" stroke="#6a6a6a" stroke-width="1" fill="none"/>
<line x1="708.2" y1="491.3" x2="734.0" y2="491.3" stroke="#6a6a6a" stroke-width="1" fill="none"/>
<line x1="734.0" y1="489.2" x2="734.0" y2="496.3" stroke="#6a6a6a" stroke-width="1" fill="none"/>
<polygon points="742.4,449.7 749.4,451.5 742.4,453.3" fill="#222"/>
<polygon points="731.7,468.6 738.5,470.4 731.7,472.2" fill="#222"/>
<polygon points="727.1,489.5 733.8,491.3 727.1,493.1" fill="#222"/>
<rect x="729.6" y="496.3" width="9.4" height="20.7" stroke="#6a6a6a" stroke-width="1" fill="none"/>
<line x1="734.3" y1="498" x2="734.3" y2="516" stroke="#999" stroke-width="0.9" stroke-dasharray="2,2"/>
<line x1="732.4" y1="517.4" x2="732.4" y2="557.7" stroke="#9a9a9a" stroke-width="1.1"/>
<line x1="733.8" y1="517.4" x2="733.8" y2="557.7" stroke="#888" stroke-width="0.9" stroke-dasharray="2,1.5"/>
<line x1="735.3" y1="517.4" x2="735.3" y2="557.7" stroke="#1e1e1e" stroke-width="1.2"/>
<text transform="translate(718.90,448.90)  scale(0.983,1) translate(0.00,0)" font-size="12.43" fill="#111" stroke="#111" stroke-width="0.10">A1</text>
<text transform="translate(708.70,467.30)  scale(1.018,1) translate(-0.35,0)" font-size="11.71" fill="#111" stroke="#111" stroke-width="0.10">X1</text>
<text transform="translate(704.10,487.80)  scale(0.996,1) translate(-0.35,0)" font-size="11.71" fill="#111" stroke="#111" stroke-width="0.10">Y1</text>
<rect x="662.3" y="571.3" width="132" height="77.2" stroke="#6a6a6a" stroke-width="1" fill="none"/>
<line x1="733.1" y1="571.3" x2="733.1" y2="632.5" stroke="#6a6a6a" stroke-width="1" fill="none"/>
<line x1="686.5" y1="632.5" x2="731" y2="632.5" stroke="#6a6a6a" stroke-width="1" fill="none"/>
<line x1="735" y1="632.5" x2="794.3" y2="632.5" stroke="#6a6a6a" stroke-width="1" fill="none"/>
<line x1="688.4" y1="591" x2="688.4" y2="632.5" stroke="#6a6a6a" stroke-width="1" fill="none"/>
<polyline points="706.7,591 706.7,621.1 730.7,621.1" stroke="#6a6a6a" stroke-width="1" fill="none"/>
<polyline points="727.6,591 727.6,615.7" stroke="#6a6a6a" stroke-width="1" fill="none"/>
<polygon points="686.6,626 688.4,632.5 690.2,626" fill="#222"/>
<polygon points="704.9,614.6 706.7,621.1 708.5,614.6" fill="#222"/>
<polygon points="725.8,609.2 727.6,615.7 729.4,609.2" fill="#222"/>
<rect x="733.1" y="612.6" width="21" height="8.5" stroke="#6a6a6a" stroke-width="1" fill="none"/>
<line x1="724" y1="616.3" x2="753" y2="616.3" stroke="#777" stroke-width="0.9" stroke-dasharray="2.5,2"/>
<line x1="754" y1="614.6" x2="794.2" y2="614.6" stroke="#8a8a8a" stroke-width="1.1"/>
<line x1="754" y1="616.3" x2="794.2" y2="616.3" stroke="#999" stroke-width="0.9" stroke-dasharray="2,1.5"/>
<line x1="754" y1="618.3" x2="794.2" y2="618.3" stroke="#1e1e1e" stroke-width="1.2"/>
<text transform="translate(686.00,614.80) rotate(-90) scale(0.907,1) translate(0.00,0)" font-size="13.00" fill="#111" stroke="#111" stroke-width="0.10">A2</text>
<text transform="translate(704.30,609.30) rotate(-90) scale(1.019,1) translate(-0.38,0)" font-size="12.57" fill="#111" stroke="#111" stroke-width="0.10">X2</text>
<text transform="translate(725.30,602.00) rotate(-90) scale(0.974,1) translate(-0.39,0)" font-size="13.14" fill="#111" stroke="#111" stroke-width="0.10">Y2</text>
</svg>
</body></html>
